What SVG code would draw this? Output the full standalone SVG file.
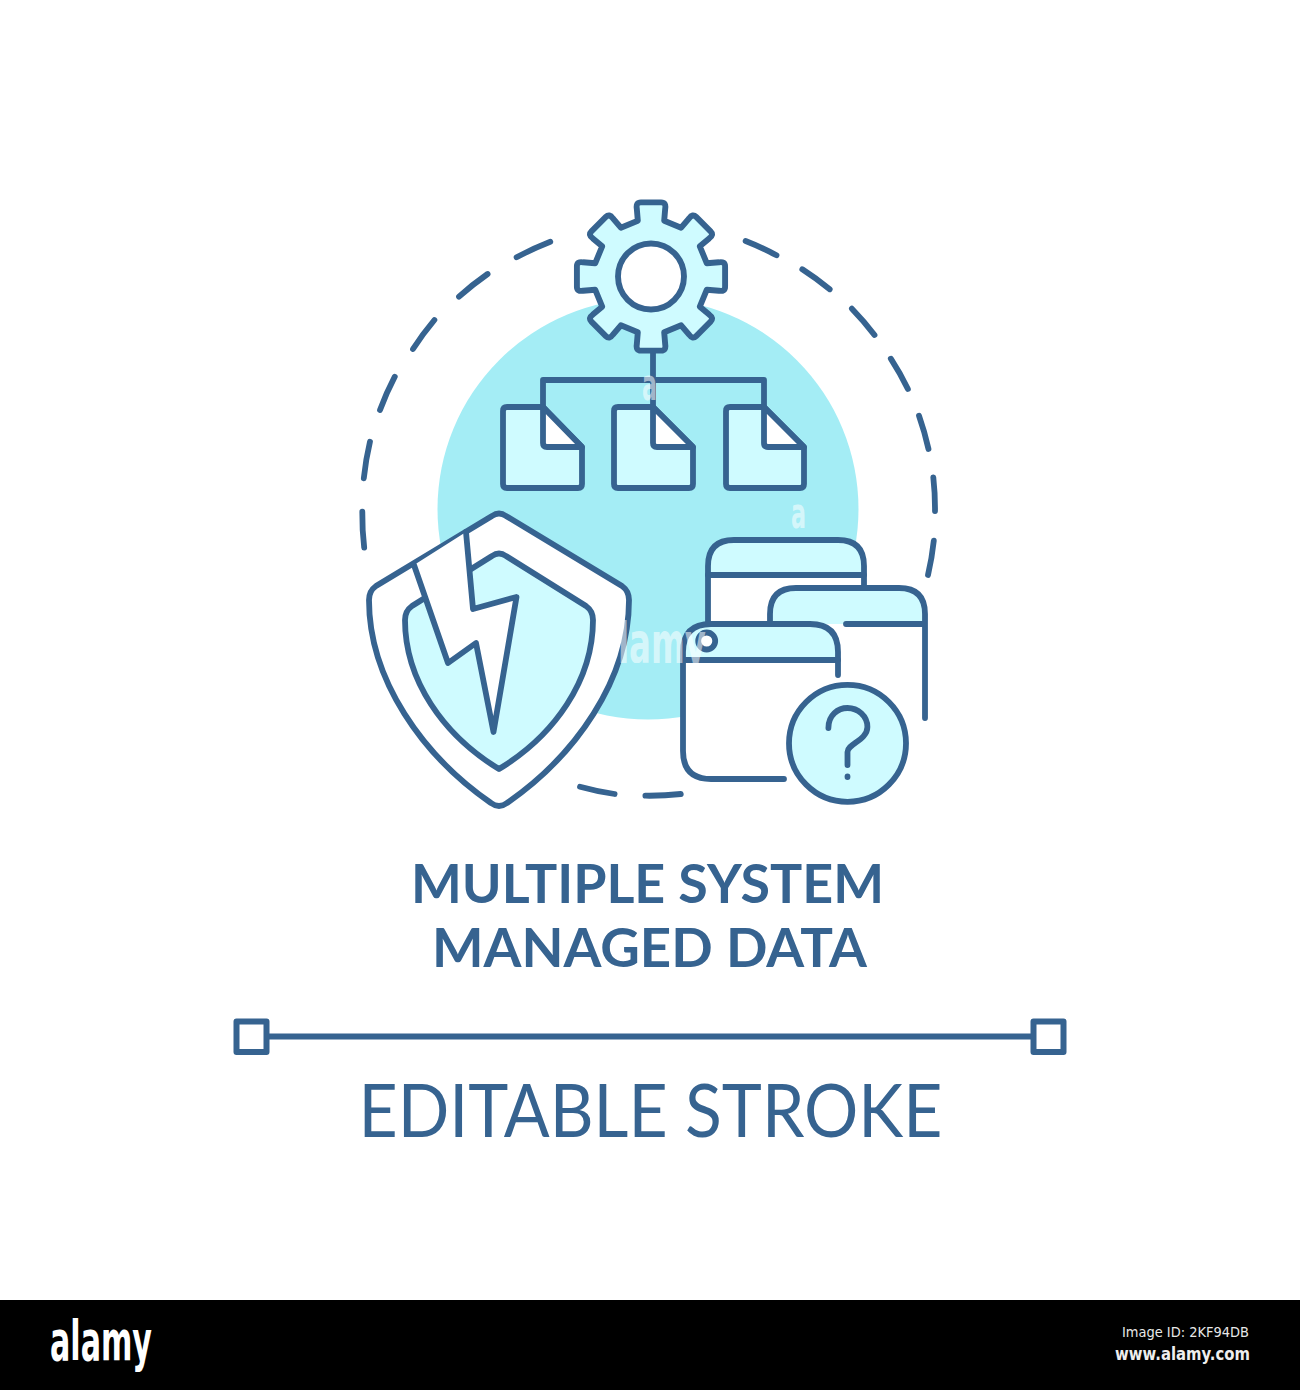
<svg xmlns="http://www.w3.org/2000/svg" width="1300" height="1390" viewBox="0 0 1300 1390">
<defs><clipPath id="wm-clip"><rect x="610" y="610" width="100" height="53"/></clipPath></defs>
<style>
.s{stroke:#366390;stroke-width:5.8;stroke-linecap:round;stroke-linejoin:round;fill:none}
.l{fill:#cffbff}
.w{fill:#fff}
.t{fill:#366390;text-anchor:middle;font-family:Lato,"Open Sans","Liberation Sans",sans-serif}
.wm{fill:#fff;fill-opacity:.55;font-family:"DejaVu Sans Condensed","DejaVu Sans",sans-serif;font-weight:700}
.f{font-family:"DejaVu Sans",sans-serif}
</style>
<rect width="1300" height="1390" fill="#fff"/>
<circle id="backdrop" cx="648" cy="509" r="210.500" fill="#a4edf5"/>
<g id="dashed-ring" class="s">
<path d="M550.3,241.7A286,286 0 0 0 516.6,257.3"/>
<path d="M487.6,274A286,286 0 0 0 459,296.7"/>
<path d="M434.4,320A286,286 0 0 0 413,349"/>
<path d="M394.8,376.7A286,286 0 0 0 380,410"/>
<path d="M370,441.7A286,286 0 0 0 363.8,478.3"/>
<path d="M362.3,511.7A286,286 0 0 0 364.2,547.7"/>
<path d="M745.6,241A286,286 0 0 1 776.5,255.3"/>
<path d="M802.3,269.3A286,286 0 0 1 829.7,289.3"/>
<path d="M851.9,308.7A286,286 0 0 1 874.5,335"/>
<path d="M890.8,358.7A286,286 0 0 1 907.9,389"/>
<path d="M919,415.7A286,286 0 0 1 928.5,449"/>
<path d="M933.3,477.3A286,286 0 0 1 935,511"/>
<path d="M933.8,540.7A286,286 0 0 1 928,575"/>
<path d="M580,786.7A286,286 0 0 0 614.6,794"/>
<path d="M645.4,795.7A286,286 0 0 0 680.8,794"/>
</g>
<g id="connectors" class="s">
<path d="M653,353V407"/>
<path d="M543,407V380H764V407"/>
</g>
<g id="gear" class="s" transform="translate(651,276.5) scale(1.015)">
<path class="l" d="M-13,-55L-14,-67Q-15,-73 -10,-73L10,-73Q15,-73 14,-67L13,-55L29.7,-48.1L37.5,-57.3Q41,-62.2 44.5,-58.7L58.7,-44.5Q62.2,-41 57.3,-37.5L48.1,-29.7L55,-13L67,-14Q73,-15 73,-10L73,10Q73,15 67,14L55,13L48.1,29.7L57.3,37.5Q62.2,41 58.7,44.5L44.5,58.7Q41,62.2 37.5,57.3L29.7,48.1L13,55L14,67Q15,73 10,73L-10,73Q-15,73 -14,67L-13,55L-29.7,48.1L-37.5,57.3Q-41,62.2 -44.5,58.7L-58.7,44.5Q-62.2,41 -57.3,37.5L-48.1,29.7L-55,13L-67,14Q-73,15 -73,10L-73,-10Q-73,-15 -67,-14L-55,-13L-48.1,-29.7L-57.3,-37.5Q-62.2,-41 -58.7,-44.5L-44.5,-58.7Q-41,-62.2 -37.5,-57.3L-29.7,-48.1Z"/>
<circle class="w" cx="0" cy="0" r="32.5"/>
</g>
<g id="doc-1" class="s">
<path class="l" d="M543,407H507Q503,407 503,411V484Q503,488 507,488H578Q582,488 582,484V447Z"/>
<path class="w" d="M543,407V443Q543,447 547,447H582Z"/>
</g>
<g id="doc-2" class="s">
<path class="l" d="M653,407H618Q614,407 614,411V484Q614,488 618,488H689Q693,488 693,484V447Z"/>
<path class="w" d="M653,407V443Q653,447 657,447H693Z"/>
</g>
<g id="doc-3" class="s">
<path class="l" d="M764,407H730Q726,407 726,411V484Q726,488 730,488H800Q804,488 804,484V447Z"/>
<path class="w" d="M764,407V443Q764,447 768,447H804Z"/>
</g>
<g id="shield" class="s">
<path class="w" d="M492,516Q499,511 506,516L622,586Q629,591 629,600C629,680 575,756 507,803Q499,809 491,803C423,756 369,680 369,600Q369,591 376,586Z"/>
<path class="l" d="M492,556Q499,551 506,556L586,606Q593,611 593,620C593,680 555,735 499,769C443,735 405,680 405,620Q405,611 412,606Z"/>
<path class="w" d="M414,565L448,663L476,643L493.5,732L516.5,597L473,609L466,532"/>
</g>
<g id="window-back" class="s">
<path class="w" stroke="none" d="M708,575H864V626H708Z"/>
<path class="l" d="M708,575V566Q708,540 734,540H838Q864,540 864,566V575Z"/>
<path d="M708,575V622M864,575V588"/>
</g>
<g id="window-right" class="s">
<path class="w" stroke="none" d="M770,624H925V718H770Z"/>
<path class="l" stroke="none" d="M770,624V614Q770,588 796,588H899Q925,588 925,614V624Z"/>
<path d="M770,623V614Q770,588 796,588H899Q925,588 925,614V718M846,624H925"/>
</g>
<g id="window-front" class="s">
<path class="w" stroke="none" d="M683,660H838V779H711Q683,779 683,751Z"/>
<path class="l" d="M683,660V652Q683,624 711,624H810Q838,624 838,652V660Z"/>
<path d="M838,660V675M683,660V751Q683,779 711,779H784"/>
<circle class="w" cx="706.700" cy="641" r="8.500"/>
</g>
<g id="question" class="s">
<circle class="l" cx="847.500" cy="743.300" r="58.500"/>
<path d="M828.4,728C828.4,715 838,708 847.5,708C858,708 867.4,716 867.4,727C867.4,740 847.5,744 847.5,752V765"/>
<path d="M847.5,776.5V777"/>
</g>
<g id="watermark">
<text class="wm" x="618" y="663" font-size="57" textLength="88" lengthAdjust="spacingAndGlyphs" clip-path="url(#wm-clip)">lamy</text>
<text class="wm" x="791" y="528" font-size="42" textLength="15" lengthAdjust="spacingAndGlyphs">a</text>
<text class="wm" x="642" y="400" font-size="45" textLength="15" lengthAdjust="spacingAndGlyphs">a</text>
</g>
<g id="title">
<text class="t" x="647.500" y="902.500" font-size="54" font-weight="700" textLength="473" lengthAdjust="spacingAndGlyphs">MULTIPLE SYSTEM</text>
<text class="t" x="649.500" y="967" font-size="54" font-weight="700" textLength="435" lengthAdjust="spacingAndGlyphs">MANAGED DATA</text>
</g>
<g id="stroke-sample">
<path d="M268,1036.5H1032" stroke="#366390" stroke-width="6" fill="none"/>
<rect x="236.500" y="1021.500" width="30" height="30.500" fill="#fff" stroke="#366390" stroke-width="6" stroke-linejoin="round"/>
<rect x="1033.500" y="1021.500" width="30" height="30.500" fill="#fff" stroke="#366390" stroke-width="6" stroke-linejoin="round"/>
</g>
<text id="caption" class="t" x="650.500" y="1137" font-size="74" textLength="584" lengthAdjust="spacingAndGlyphs">EDITABLE STROKE</text>
<g id="footer">
<rect y="1300" width="1300" height="90" fill="#000"/>
<text x="50" y="1360" font-size="56" font-weight="700" fill="#fff" font-family="DejaVu Sans Condensed,DejaVu Sans,sans-serif" textLength="102" lengthAdjust="spacingAndGlyphs">alamy</text>
<text class="f" x="1122" y="1337" font-size="14" fill="#e8e8e8" textLength="127" lengthAdjust="spacingAndGlyphs">Image ID: 2KF94DB</text>
<text class="f" x="1115" y="1360" font-size="18" font-weight="700" fill="#eee" textLength="135" lengthAdjust="spacingAndGlyphs">www.alamy.com</text>
</g>
</svg>
